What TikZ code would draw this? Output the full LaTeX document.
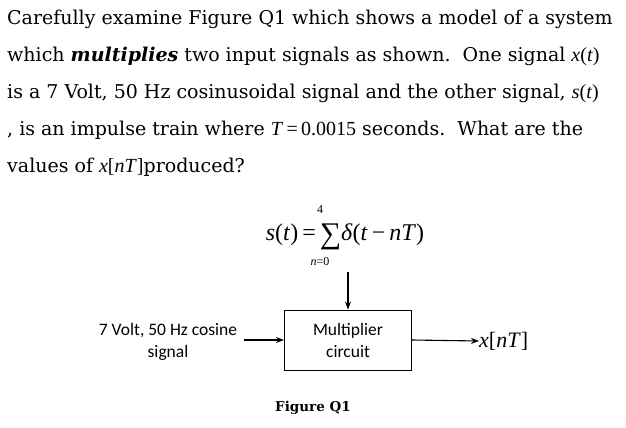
\documentclass[tikz,border=0pt]{standalone}
\usepackage{fontspec}
\setmainfont{DejaVu Serif}
\newfontfamily\calib{Carlito}
\newfontfamily\tms{Liberation Serif}
\usetikzlibrary{arrows.meta}
\begin{document}
\begin{tikzpicture}[x=1pt,y=-1pt,
  para/.style={anchor=base west,inner sep=0pt,font=\fontsize{19}{20}\selectfont},
  lbl/.style={font=\calib\fontsize{17.5}{22}\selectfont,align=center},
  arr/.style={-{Stealth[length=8pt,width=6pt]},line width=1.1pt}]
\useasboundingbox (0,0) rectangle (626,428);
\newcommand{\mt}[1]{{\tms\fontsize{20}{20}\selectfont #1}}
\node[para] (l1) at (7,25) {Carefully examine Figure Q1 which shows a model of a system};
\node[para] (l2) at (7,61) {which \textbf{\textit{multiplies}} two input signals as shown.\ \ One signal \mt{\textit{x}(\textit{t})}};
\node[para] (l3) at (7,98) {is a 7 Volt, 50 Hz cosinusoidal signal and the other signal, \mt{\textit{s}(\textit{t})}};
\node[para] (l4) at (7,135) {, is an impulse train where \mt{\textit{T}\,=\,0.0015}\ seconds.\ \ What are the};
\node[para] (l5) at (7,172) {values of \mt{\textit{x}[\textit{nT}]}produced?};
\node[font=\tms\fontsize{24}{26}\selectfont,inner sep=0pt] (st) at (345,237) {\textit{s}(\textit{t})\,=\,{\fontsize{30}{30}\selectfont\raisebox{-3pt}{∑}}\textit{δ}(\textit{t}\,−\,\textit{nT})};
\node[font=\tms\fontsize{12}{12}\selectfont] (up) at (320,210) {4};
\node[font=\tms\fontsize{12}{12}\selectfont] (lo) at (320,262) {\textit{n}=0};
\node[draw,line width=1pt,minimum width=127pt,minimum height=60pt,lbl] (m) at (348,340) {Multiplier\\circuit};
\coordinate (top) at (348,272);
\draw[arr] (top) -- (m.north);
\node[lbl] (in) at (168,342) {7 Volt, 50 Hz cosine\\signal};
\coordinate (ins) at (244,340);
\draw[arr] (ins) -- (m.west);
\node[anchor=west,inner sep=0pt,font=\tms\fontsize{22}{22}\selectfont] (out) at (479,341) {\textit{x}[\textit{nT}]};
\draw[arr] (m.east) -- (out.west);
\node[font=\bfseries\fontsize{13.5}{14}\selectfont] (fig) at (313,408) {Figure Q1};
\end{tikzpicture}
\end{document}
